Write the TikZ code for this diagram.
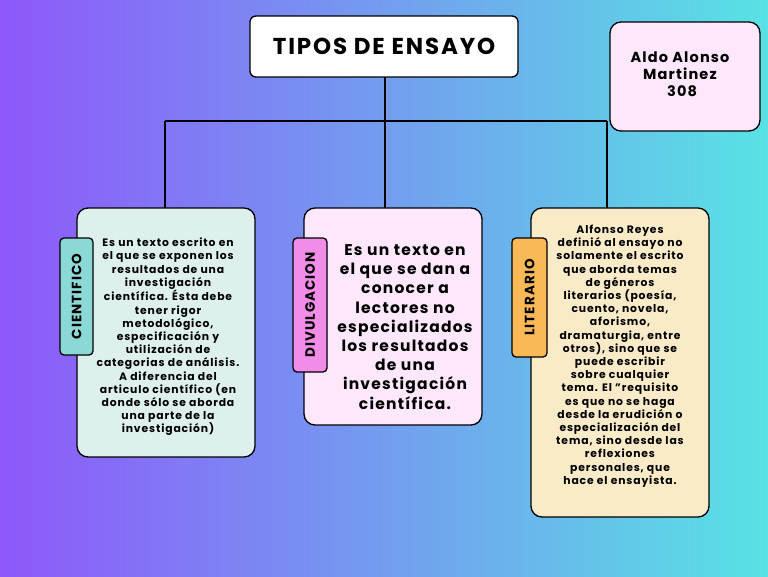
\documentclass[tikz,border=0pt]{standalone}
\usepackage{fontspec}
\setmainfont{Poppins}[LetterSpace=8]
\begin{document}
\begin{tikzpicture}[x=1pt,y=-1pt,
 box/.style={draw=black,line width=1.3pt,rounded corners=11pt},
 tab/.style={draw=black,line width=1.3pt,rounded corners=4pt},
 conn/.style={line width=2.2pt,black},
 body/.style={align=center,font=\bfseries\fontsize{10.8}{13.2}\selectfont,inner sep=0pt},
 tabt/.style={rotate=90,font=\bfseries\fontsize{13.5}{13}\selectfont}]
\useasboundingbox (0,0) rectangle (768,576);
\shade[left color={rgb,255:red,142;green,88;blue,250},right color={rgb,255:red,88;green,226;blue,228}] (0,0) rectangle (768,576);
\coordinate (j) at (385,121);
\coordinate (jl) at (165,121);
\coordinate (jr) at (607,121);
\draw[conn] (385,77) -- (j);
\draw[conn] (jl) -- (jr);
\draw[conn] (jl) -- (165,209);
\draw[conn] (j) -- (385,209);
\draw[conn] (jr) -- (607,209);
\node[box,fill=white,minimum width=268pt,minimum height=61pt,rounded corners=6pt,font=\bfseries\fontsize{23}{24}\selectfont] (t) at (384,46.5) {TIPOS DE ENSAYO};
\node[box,fill={rgb,255:red,253;green,232;blue,251},minimum width=150pt,minimum height=109pt] (n) at (685,76.5) {};
\node[align=center,font=\bfseries\fontsize{14.5}{17}\selectfont] (nt) at (680,74) {Aldo Alonso\\Martinez\\ \ 308};
% box1
\node[box,fill={rgb,255:red,221;green,240;blue,238},minimum width=178pt,minimum height=249pt] (b1) at (166,332.5) {};
\node[tab,fill={rgb,255:red,139;green,217;blue,214},minimum width=117pt,minimum height=33pt,tabt] (t1) at (76.5,296.5) {CIENTIFICO};
\node[body] (x1) at (168,337) {Es un texto escrito en\\el que se exponen los\\resultados de una\\investigación\\científica. Ésta debe\\tener rigor\\metodológico,\\especificación y\\utilización de\\categorias de análisis.\\A diferencia del\\articulo científico (en\\donde sólo se aborda\\una parte de la\\investigación)};
% box2
\node[box,fill={rgb,255:red,253;green,232;blue,251},minimum width=178pt,minimum height=217pt] (b2) at (393,316.5) {};
\node[tab,fill={rgb,255:red,241;green,140;blue,232},minimum width=134pt,minimum height=34pt,tabt] (t2) at (310,305) {DIVULGACION};
\node[body,font=\bfseries\fontsize{15.5}{19.2}\selectfont] (x2) at (405,327) {Es un texto en\\el que se dan a\\conocer a\\lectores no\\especializados\\los resultados\\de una\\investigación\\científica.};
% box3
\node[box,fill={rgb,255:red,250;green,235;blue,200},minimum width=178pt,minimum height=309pt] (b3) at (620,362.5) {};
\node[tab,fill={rgb,255:red,249;green,185;blue,87},minimum width=119pt,minimum height=35pt,tabt] (t3) at (529.5,297.5) {LITERARIO};
\node[body] (x3) at (620,356) {Alfonso Reyes\\definió al ensayo no\\solamente el escrito\\que aborda temas\\de géneros\\literarios (poesía,\\cuento, novela,\\aforismo,\\dramaturgia, entre\\otros), sino que se\\puede escribir\\sobre cualquier\\tema. El "requisito\\es que no se haga\\desde la erudición o\\especialización del\\tema, sino desde las\\reflexiones\\personales, que\\hace el ensayista.};
\end{tikzpicture}
\end{document}
